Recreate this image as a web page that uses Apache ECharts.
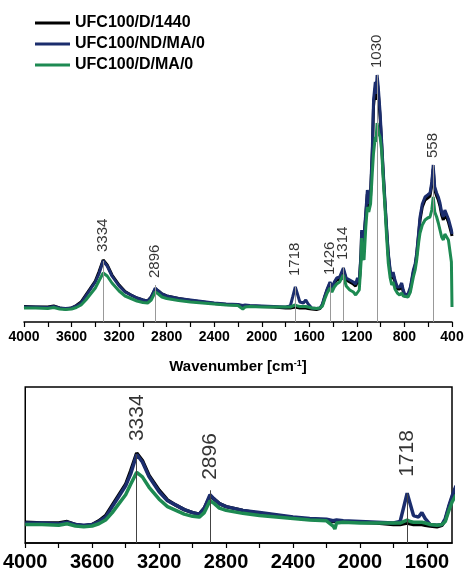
<!DOCTYPE html>
<html>
<head>
<meta charset="utf-8">
<script src="https://cdn.jsdelivr.net/npm/echarts@6/dist/echarts.min.js"></script>
<style>
  html, body { margin: 0; padding: 0; background: #fff; }
  #chart { width: 474px; height: 584px; }
</style>
</head>
<body>
<div id="chart"></div>
<script>
// wavenumber axis (cm-1), shared by all three spectra
const wavenumber = [
  4000,3900,3800,3750,3700,3650,3600,3560,3520,3480,
  3440,3400,3370,3334,3300,3260,3200,3150,3100,3050,
  3000,2960,2930,2896,2870,2840,2800,2700,2600,2500,
  2400,2300,2200,2160,2150,2140,2100,2000,1900,1800,
  1760,1740,1718,1700,1680,1650,1630,1610,1580,1540,
  1510,1490,1470,1450,1426,1410,1390,1370,1345,1314,
  1290,1260,1230,1210,1195,1180,1165,1160,1150,1140,
  1125,1112,1100,1085,1070,1060,1045,1040,1030,1020,
  1005,992,978,964,950,936,920,907,895,880,
  860,840,823,810,795,770,750,725,710,697,
  680,669,650,627,605,585,570,558,545,529,
  515,501,487,473,460,445,430,417,405,400
];
// UFC100/D/1440
const d1440 = [
  15.5,15,15,16,14,13,14,16.5,20,27,
  34,41,50,62,57,47,37,30.5,27,24,
  22,21,25,33,31,28,26,23.5,21.5,20,
  18.5,17.5,17,16,15.5,16.5,16,15.5,15,14,
  14,14.5,15,14.5,14,14,14,13.5,13,12.5,
  13.5,17,25,32,39,33,39,42,43,52,
  42,40,38,36,42,38,68,90,68,66,
  107,128,115,126,170,216,234,222,241,229,
  205,178,147,119,92,67,50,43,48,40,
  33,33,37,30,25.5,26.5,33,50,56,67,
  88,102,115,122,124,126,137,153,132,126,
  122,116,107,102,109,107,100,99,89,86
];
// UFC100/ND/MA/0
const ndMa0 = [
  15,15,14.5,15.5,14,13.5,14,16,19,26,
  33,40,48,61,56,46,36,30,27,24,
  22,21,25,34,31,28,26,23.5,22,20.5,
  19,18,17.5,16.5,16,17,16.5,16,15.5,15,
  16,25,35,28,20,19,22,18,14,13.5,
  14,18,26,33,40,34,40,44,45,54,
  44,42,40,38,44,40,70,92,70,68,
  110,132,118,130,175,222,240,228,247,235,
  210,182,150,122,95,69,52,45,50,42,
  35,35,39,32,27,28,35,52,58,69,
  90,105,118,125,127,129,140,157,135,129,
  125,119,110,105,112,110,103,102,92,88
];
// UFC100/D/MA/0
const dMa0 = [
  14,14,13.5,14.5,13,12.5,13,14.5,17,22,
  28,34,41,49,46,39,31,26,23.5,21,
  19.5,19,22,30,28,25,23.5,21.5,20,19,
  18,17,16.5,13,11,15,15.5,15,15,15,
  15,16,17,16,15.5,15.5,15.5,15,14,13.5,
  14,16,23,29,34,30,35,38,40,47,
  36,32,30,27,28,32,60,84,65,62,
  95,115,110,118,150,169,185,180,199,190,
  185,172,142,115,85,59,44,37,40,33,
  29,27,29,26,24,25,30,45,52,62,
  80,89,97,102,104,105,112,125,110,105,
  99,92,85,82,88,89,82,80,60,15
];
// peak annotations
const peakPos = [3334, 2896, 1718, 1426, 1314, 1030, 558];
const peakTop = [61, 37, 35, 39, 55, 247, 157];
const peakLabelAt = [70, 44, 46, 47, 62, 254, 164];
const zoomPeakCount = 3;

const topLabels = [4000,3600,3200,2800,2400,2000,1600,1200,800,400];
const topTicks = [4000,3800,3600,3400,3200,3000,2800,2600,2400,2200,2000,1800,1600,1400,1200,1000,800,600,400];
const zoomLabels = [4000,3600,3200,2800,2400,2000,1600];
const zoomTicks = [4000,3800,3600,3400,3200,3000,2800,2600,2400,2200,2000,1800,1600];

const names = ["UFC100/D/1440", "UFC100/ND/MA/0", "UFC100/D/MA/0"];
const colors = ["#000000", "#1b2d6d", "#1d8a52"];
const spectra = [d1440, ndMa0, dMa0];

const font = "Liberation Sans, Arial, sans-serif";

function pairs(ys) {
  return wavenumber.map((w, i) => [w, ys[i]]);
}

function spectrumSeries(idx, width) {
  return spectra.map((ys, i) => ({
    name: names[i],
    type: "line",
    xAxisIndex: idx,
    yAxisIndex: idx,
    data: pairs(ys),
    showSymbol: false,
    symbol: "none",
    lineStyle: { color: colors[i], width: width },
    itemStyle: { color: colors[i] },
    z: 2 + i,
  }));
}

function peakSeries(idx, count, yBase, fontSize, lineColor) {
  const pos = peakPos.slice(0, count);
  return {
    type: "scatter",
    xAxisIndex: idx,
    yAxisIndex: idx,
    symbolSize: 0,
    silent: true,
    z: 6,
    data: pos.map((w, i) => [w, peakLabelAt[i]]),
    label: {
      show: true,
      position: [0, 0],
      rotate: 90,
      align: "left",
      verticalAlign: "middle",
      formatter: (p) => String(p.value[0]),
      fontFamily: font,
      fontSize: fontSize,
      color: "#000",
    },
    markLine: {
      silent: true,
      symbol: ["none", "none"],
      label: { show: false },
      lineStyle: { type: "solid", width: 1, color: lineColor },
      data: pos.map((w, i) => [
        { coord: [w, yBase] },
        { coord: [w, peakTop[i]] },
      ]),
    },
  };
}

const chart = echarts.init(document.getElementById("chart"), null, { renderer: "canvas" });

const option = {
  animation: false,
  backgroundColor: "#fff",
  legend: {
    data: names,
    orient: "vertical",
    left: 30,
    top: 10,
    icon: "rect",
    itemWidth: 35,
    itemHeight: 3,
    itemGap: 5,
    textStyle: {
      fontFamily: font,
      fontSize: 16,
      fontWeight: "bold",
      color: "#000",
      lineHeight: 16,
    },
  },
  grid: [
    { left: 24, right: 22, top: 22, height: 300 },
    { left: 24, right: 22, top: 387, height: 156, show: true, borderColor: "#000", borderWidth: 1.5, backgroundColor: "transparent" },
  ],
  xAxis: [
    {
      gridIndex: 0,
      type: "value",
      inverse: true,
      min: 400,
      max: 4000,
      splitLine: { show: false },
      axisLine: { lineStyle: { color: "#000", width: 1.5 } },
      axisTick: { show: true, length: 5, customValues: topTicks, lineStyle: { color: "#000", width: 1.2 } },
      axisLabel: {
        customValues: topLabels,
        formatter: (v) => String(v),
        margin: 8,
        fontFamily: font,
        fontSize: 14,
        fontWeight: "bold",
        color: "#000",
      },
      name: "Wavenumber [cm{sup|-1}]",
      nameLocation: "middle",
      nameGap: 37,
      nameTextStyle: {
        fontFamily: font,
        fontSize: 15,
        fontWeight: "bold",
        color: "#000",
        rich: {
          sup: { fontFamily: font, fontSize: 9, fontWeight: "bold", color: "#000", verticalAlign: "top", padding: [0, 0, 6, 0] },
        },
      },
    },
    {
      gridIndex: 1,
      type: "value",
      inverse: true,
      min: 1450,
      max: 4000,
      splitLine: { show: false },
      axisLine: { lineStyle: { color: "#000", width: 1.5 } },
      axisTick: { show: true, length: 5, customValues: zoomTicks, lineStyle: { color: "#000", width: 1.2 } },
      axisLabel: {
        customValues: zoomLabels,
        formatter: (v) => String(v),
        margin: 9,
        fontFamily: font,
        fontSize: 20,
        fontWeight: "bold",
        color: "#000",
      },
    },
  ],
  yAxis: [
    { gridIndex: 0, type: "value", min: 0, max: 300, show: false },
    { gridIndex: 1, type: "value", min: 1.6, max: 106.3, show: false },
  ],
  series: [
    ...spectrumSeries(0, 3),
    peakSeries(0, peakPos.length, 0, 15, "#999"),
    ...spectrumSeries(1, 3.5),
    peakSeries(1, zoomPeakCount, 1.6, 21, "#444"),
  ],
};

chart.setOption(option);
</script>
</body>
</html>
